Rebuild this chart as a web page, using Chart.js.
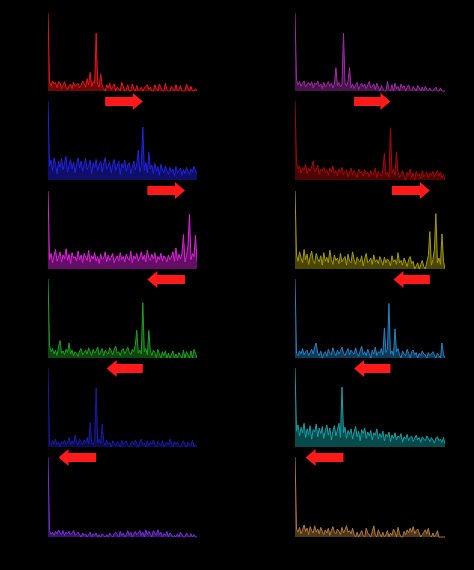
<!DOCTYPE html>
<html>
<head>
<meta charset="utf-8">
<script src="https://cdn.jsdelivr.net/npm/chart.js@4/dist/chart.umd.min.js"></script>
<style>
  html, body { margin: 0; padding: 0; background: #000; }
  body { width: 474px; height: 570px; position: relative; overflow: hidden; }
  canvas { position: absolute; }
</style>
</head>
<body>
<script>
// ---- Data: spectrum amplitudes (% of panel height), 100 bins each ----
const bins = Array.from({ length: 100 }, (_, i) => i);

const redSeries = [100, 12,6,13,9,11,4,12,10,3, 8,12,5,2,7,9,3,11,6,8, 10,4,7,13,9,5,16,8,24,6, 12,10,74,9,5,22,7,3,0,8, 4,10,2,6,9,0,5,3,0,11, 6,0,2,8,0,0,9,3,0,7, 0,2,5,0,4,6,8,2,5,0, 0,8,3,0,9,4,0,0,10,2, 0,0,6,3,0,8,0,2,7,0, 0,0,9,4,0,6,0,0,3,0];
const purpleSeries = [100, 14,8,12,6,10,13,5,9,11, 7,12,4,10,8,13,6,9,3,11, 5,8,12,6,10,4,9,30,7,11, 5,8,74,10,6,12,30,4,9,3, 8,11,2,7,10,5,9,3,8,12, 4,6,9,2,10,5,0,7,3,0, 0,12,2,0,8,0,10,3,6,0, 9,4,7,0,5,8,2,0,6,3, 0,7,4,0,5,0,6,2,0,4, 0,0,3,5,0,0,4,0,0,0];
const blueSeries = [100, 18,25,12,28,20,8,24,16,27, 13,22,30,10,19,26,14,23,9,21, 28,15,24,11,20,27,13,18,25,8, 22,16,26,12,19,24,10,21,28,14, 17,23,9,20,26,12,18,24,7,21, 15,25,11,19,22,8,16,24,13,20, 38,10,18,67,12,22,9,35,14,19, 8,21,11,17,6,20,13,9,18,12, 7,16,10,14,5,17,9,12,15,6, 13,8,16,11,7,14,10,17,12,9];
const darkRedSeries = [100, 22,14,18,9,16,12,20,8,15, 11,17,24,10,13,19,7,14,11,16, 9,13,6,15,10,18,8,12,5,14, 9,16,7,11,13,4,10,15,6,12, 8,3,14,9,11,5,13,7,10,4, 12,6,9,15,3,11,8,5,13,34, 7,10,4,66,9,14,6,35,11,3, 8,12,5,0,10,6,14,3,9,0, 11,5,8,2,12,4,7,10,3,9, 6,11,4,8,12,5,10,3,7,0];
const magentaSeries = [100, 12,20,8,17,25,10,15,22,9, 18,13,26,11,19,7,21,14,16,10, 23,12,18,8,20,15,11,24,9,17, 13,21,10,16,7,19,12,14,22,9, 18,11,15,20,8,13,17,10,21,12, 16,9,19,14,11,23,8,17,13,20, 10,15,22,12,18,9,24,14,11,19, 13,21,8,16,12,20,10,17,14,9, 18,12,15,22,10,27,11,19,13,20, 44,9,17,30,70,12,20,16,43,10];
const oliveSeries = [100, 18,10,22,14,8,25,12,19,6, 16,23,11,7,20,13,9,17,5,21, 10,15,8,24,12,6,18,11,14,7, 20,9,13,16,5,19,10,8,22,12, 6,15,11,9,17,4,13,20,8,10, 14,6,18,9,12,7,16,11,5,15, 8,13,10,4,17,9,12,6,21,8, 11,5,14,9,3,12,16,7,10,0, 4,8,0,6,11,3,0,9,17,48, 5,12,25,71,8,14,6,45,10,0];
const greenSeries = [100, 16,8,12,5,10,3,14,22,6, 9,4,11,7,19,5,10,3,8,6, 2,9,12,4,7,10,5,13,8,3, 11,6,9,14,4,8,12,3,10,7, 5,13,9,4,11,15,6,8,3,10, 12,5,9,14,7,4,11,8,16,35, 6,10,5,70,8,12,4,35,9,3, 10,7,0,11,5,0,8,3,9,0, 6,0,4,9,0,5,0,7,3,0, 10,0,8,4,0,9,0,11,6,0];
const steelSeries = [100, 6,3,9,5,12,4,8,10,3, 7,11,5,14,19,6,3,9,0,5, 8,2,11,6,4,13,7,3,10,5, 9,14,6,3,8,12,4,10,7,5, 13,6,2,9,15,4,8,3,11,6, 0,10,5,14,3,8,6,12,4,38, 7,11,69,5,9,3,37,8,12,4, 0,9,5,3,11,6,0,8,10,4, 7,0,6,3,9,5,4,0,7,3, 5,8,4,0,6,3,0,19,4,0];
const navySeries = [100, 5,2,8,4,10,3,6,0,7, 4,9,2,5,12,3,8,4,15,6, 2,10,7,3,9,5,12,4,31,6, 3,8,75,5,10,4,29,7,2,9, 3,6,0,8,4,2,7,5,0,9, 3,6,8,2,0,5,7,3,9,4, 0,6,10,3,5,0,8,2,6,4, 9,3,0,7,5,2,8,0,4,6, 3,10,5,0,7,3,6,2,0,5, 8,3,0,6,4,2,9,0,3,0];
const tealSeries = [100, 20,28,14,25,18,30,12,23,16, 27,10,22,19,29,13,24,17,26,11, 21,28,15,24,9,20,27,14,22,30, 12,76,18,25,11,21,16,23,10,19, 26,13,20,8,22,17,24,11,19,14, 21,9,18,15,23,10,17,12,20,8, 16,13,19,7,15,11,18,9,14,12, 17,6,13,10,16,8,12,14,7,11, 15,9,12,6,13,10,8,14,11,7, 12,9,5,11,13,8,10,6,12,4];
const violetSeries = [100, 8,3,6,2,7,4,9,5,3, 8,2,6,4,7,3,5,8,2,4, 6,3,0,5,2,4,0,3,6,0, 4,2,5,0,3,0,4,2,0,3, 0,5,2,0,4,6,3,0,7,2, 5,0,3,8,2,6,0,4,7,3, 5,8,2,6,0,9,3,7,4,0, 8,5,2,9,3,6,0,4,2,7, 0,5,3,0,2,0,4,0,6,3, 0,0,5,2,0,4,0,3,0,0];
const peruSeries = [100, 10,6,12,4,9,15,7,11,3, 13,8,5,14,6,10,4,12,7,3, 9,5,11,2,8,13,6,4,10,7, 3,12,5,9,14,6,8,4,11,3, 0,6,0,4,8,2,0,11,5,3, 0,7,14,3,0,9,4,0,6,0, 3,8,0,5,2,10,6,0,12,4, 0,0,7,3,9,5,11,6,13,4, 8,10,5,0,3,6,9,4,11,2, 0,5,0,3,8,0,0,0,0,0];

// Arrow marks: [tail bin, tip bin]
const arrowSpans = {
  r1L: [38, 63], r1R: [39, 63],
  r2L: [66, 91], r2R: [64, 89],
  r3L: [91, 66], r3R: [89, 65],
  r4L: [63, 39], r4R: [63, 39],
  r5L: [32, 7],  r5R: [32, 7]
};

// ---- Layout / style ----
const colX = [48, 295];
const colW = [149, 150];
const rowTop = [13, 101, 191, 279, 368, 457];
const rowBottom = [91, 180, 269, 358, 447, 537];
const ARROW_ROOM = 24;

const panels = [
  { data: redSeries,     color: '#ee1515', col: 0, row: 0, arrow: arrowSpans.r1L },
  { data: purpleSeries,  color: '#a22aa8', col: 1, row: 0, arrow: arrowSpans.r1R },
  { data: blueSeries,    color: '#2222e6', col: 0, row: 1, arrow: arrowSpans.r2L },
  { data: darkRedSeries, color: '#a80808', col: 1, row: 1, arrow: arrowSpans.r2R },
  { data: magentaSeries, color: '#e020e0', col: 0, row: 2, arrow: arrowSpans.r3L },
  { data: oliveSeries,   color: '#a39c00', col: 1, row: 2, arrow: arrowSpans.r3R },
  { data: greenSeries,   color: '#1ea01e', col: 0, row: 3, arrow: arrowSpans.r4L },
  { data: steelSeries,   color: '#2183c4', col: 1, row: 3, arrow: arrowSpans.r4R },
  { data: navySeries,    color: '#1a1aa8', col: 0, row: 4, arrow: arrowSpans.r5L },
  { data: tealSeries,    color: '#12a3a8', col: 1, row: 4, arrow: arrowSpans.r5R },
  { data: violetSeries,  color: '#7a2ee6', col: 0, row: 5, arrow: null },
  { data: peruSeries,    color: '#b07a38', col: 1, row: 5, arrow: null }
];

function withAlpha(hex, a) {
  const n = parseInt(hex.slice(1), 16);
  return `rgba(${(n >> 16) & 255},${(n >> 8) & 255},${n & 255},${a})`;
}

const arrowPlugin = {
  id: 'arrowMark',
  afterDraw(chart, args, opts) {
    if (!opts || opts.tail == null) return;
    const xs = chart.scales.x;
    const ctx = chart.ctx;
    const x1 = xs.getPixelForValue(opts.tail);
    const x2 = xs.getPixelForValue(opts.tip);
    const y = chart.chartArea.bottom + 10.5;
    const dir = Math.sign(x2 - x1);
    const headLen = 10, bodyH = 9, headH = 17;
    const hx = x2 - dir * headLen;
    ctx.save();
    ctx.fillStyle = '#ff1a1a';
    ctx.beginPath();
    ctx.moveTo(x1, y - bodyH / 2);
    ctx.lineTo(hx, y - bodyH / 2);
    ctx.lineTo(hx, y - headH / 2);
    ctx.lineTo(x2, y);
    ctx.lineTo(hx, y + headH / 2);
    ctx.lineTo(hx, y + bodyH / 2);
    ctx.lineTo(x1, y + bodyH / 2);
    ctx.closePath();
    ctx.fill();
    ctx.restore();
  }
};

panels.forEach((p) => {
  const cv = document.createElement('canvas');
  const h = rowBottom[p.row] - rowTop[p.row];
  cv.width = colW[p.col];
  cv.height = h + ARROW_ROOM;
  cv.style.left = colX[p.col] + 'px';
  cv.style.top = rowTop[p.row] + 'px';
  cv.style.width = colW[p.col] + 'px';
  cv.style.height = (h + ARROW_ROOM) + 'px';
  document.body.appendChild(cv);

  new Chart(cv.getContext('2d'), {
    type: 'line',
    data: {
      labels: bins,
      datasets: [{
        data: p.data,
        borderColor: p.color,
        backgroundColor: withAlpha(p.color, 0.45),
        borderWidth: 1,
        pointRadius: 0,
        tension: 0,
        fill: 'origin',
        clip: false
      }]
    },
    options: {
      responsive: false,
      maintainAspectRatio: false,
      animation: false,
      devicePixelRatio: 1,
      layout: { padding: { top: 0, bottom: ARROW_ROOM, left: 0, right: 0 } },
      scales: {
        x: { display: false, offset: false },
        y: { display: false, min: 0, max: 100 }
      },
      plugins: {
        legend: { display: false },
        tooltip: { enabled: false },
        filler: { propagate: false },
        arrowMark: p.arrow ? { tail: p.arrow[0], tip: p.arrow[1] } : {}
      },
      events: []
    },
    plugins: [arrowPlugin]
  });
});
</script>
</body>
</html>
